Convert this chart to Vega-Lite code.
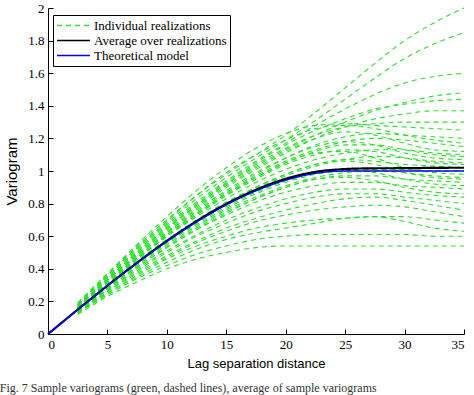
{
  "$schema": "https://vega.github.io/schema/vega-lite/v6.json",
  "autosize": {"type": "none"},
  "padding": {"left": 48, "top": 8, "right": 10, "bottom": 61},
  "width": 416,
  "height": 326,
  "background": "#ffffff",
  "title": {"text": "Fig. 7  Sample variograms (green, dashed lines), average of sample variograms", "orient": "bottom", "anchor": "start", "dx": -5, "offset": 13, "baseline": "top", "font": "Liberation Serif", "fontSize": 12, "fontWeight": "normal", "color": "#333333"},
  "config": {
    "view": {"stroke": null},
    "axis": {"grid": false, "domainColor": "#000000", "tickColor": "#000000", "tickSize": -5, "labelFont": "Liberation Serif", "labelFontSize": 13, "labelColor": "#000000", "titleFont": "Liberation Sans", "titleFontWeight": "normal", "titleColor": "#000000"},
    "legend": {"symbolStrokeWidth": 1.5}
  },
  "encoding": {
    "x": {"field": "h", "type": "quantitative", "scale": {"domain": [0, 35], "nice": false}, "axis": {"values": [0, 5, 10, 15, 20, 25, 30, 35], "title": "Lag separation distance", "titleFontSize": 13, "labelPadding": 9, "titlePadding": 6}},
    "y": {"field": "v", "type": "quantitative", "scale": {"domain": [0, 2], "nice": false}, "axis": {"values": [0, 0.2, 0.4, 0.6, 0.8, 1, 1.2, 1.4, 1.6, 1.8, 2], "format": "~g", "title": "Variogram", "titleFontSize": 15, "labelPadding": 9, "titlePadding": 8}}
  },
  "layer": [
    {
      "data": {"values": [
{"r":1,"h":2.5,"v":0.19},{"r":1,"h":5,"v":0.37},{"r":1,"h":7.5,"v":0.54},{"r":1,"h":10,"v":0.70},{"r":1,"h":12.5,"v":0.85},{"r":1,"h":15,"v":0.98},{"r":1,"h":17.5,"v":1.10},{"r":1,"h":20,"v":1.22},{"r":1,"h":22.5,"v":1.36},{"r":1,"h":25,"v":1.51},{"r":1,"h":27.5,"v":1.66},{"r":1,"h":30,"v":1.80},{"r":1,"h":32.5,"v":1.91},{"r":1,"h":35,"v":2.0},
{"r":2,"h":2.5,"v":0.18},{"r":2,"h":5,"v":0.36},{"r":2,"h":7.5,"v":0.53},{"r":2,"h":10,"v":0.68},{"r":2,"h":12.5,"v":0.83},{"r":2,"h":15,"v":0.96},{"r":2,"h":17.5,"v":1.08},{"r":2,"h":20,"v":1.19},{"r":2,"h":22.5,"v":1.31},{"r":2,"h":25,"v":1.44},{"r":2,"h":27.5,"v":1.57},{"r":2,"h":30,"v":1.69},{"r":2,"h":32.5,"v":1.78},{"r":2,"h":35,"v":1.85},
{"r":3,"h":2.5,"v":0.18},{"r":3,"h":5,"v":0.35},{"r":3,"h":7.5,"v":0.52},{"r":3,"h":10,"v":0.67},{"r":3,"h":12.5,"v":0.81},{"r":3,"h":15,"v":0.94},{"r":3,"h":17.5,"v":1.06},{"r":3,"h":20,"v":1.17},{"r":3,"h":22.5,"v":1.28},{"r":3,"h":25,"v":1.38},{"r":3,"h":27.5,"v":1.47},{"r":3,"h":30,"v":1.54},{"r":3,"h":32.5,"v":1.58},{"r":3,"h":35,"v":1.60},
{"r":4,"h":2.5,"v":0.17},{"r":4,"h":5,"v":0.34},{"r":4,"h":7.5,"v":0.50},{"r":4,"h":10,"v":0.65},{"r":4,"h":12.5,"v":0.79},{"r":4,"h":15,"v":0.92},{"r":4,"h":17.5,"v":1.03},{"r":4,"h":20,"v":1.13},{"r":4,"h":22.5,"v":1.22},{"r":4,"h":25,"v":1.30},{"r":4,"h":27.5,"v":1.37},{"r":4,"h":30,"v":1.42},{"r":4,"h":32.5,"v":1.46},{"r":4,"h":35,"v":1.48},
{"r":5,"h":2.5,"v":0.18},{"r":5,"h":5,"v":0.35},{"r":5,"h":7.5,"v":0.51},{"r":5,"h":10,"v":0.66},{"r":5,"h":12.5,"v":0.80},{"r":5,"h":15,"v":0.93},{"r":5,"h":17.5,"v":1.05},{"r":5,"h":20,"v":1.16},{"r":5,"h":22.5,"v":1.25},{"r":5,"h":25,"v":1.32},{"r":5,"h":27.5,"v":1.38},{"r":5,"h":30,"v":1.41},{"r":5,"h":32.5,"v":1.43},{"r":5,"h":35,"v":1.44},
{"r":6,"h":2.5,"v":0.17},{"r":6,"h":5,"v":0.33},{"r":6,"h":7.5,"v":0.49},{"r":6,"h":10,"v":0.63},{"r":6,"h":12.5,"v":0.77},{"r":6,"h":15,"v":0.90},{"r":6,"h":17.5,"v":1.01},{"r":6,"h":20,"v":1.11},{"r":6,"h":22.5,"v":1.20},{"r":6,"h":25,"v":1.27},{"r":6,"h":27.5,"v":1.32},{"r":6,"h":30,"v":1.35},{"r":6,"h":32.5,"v":1.37},{"r":6,"h":35,"v":1.37},
{"r":7,"h":2.5,"v":0.17},{"r":7,"h":5,"v":0.34},{"r":7,"h":7.5,"v":0.50},{"r":7,"h":10,"v":0.65},{"r":7,"h":12.5,"v":0.79},{"r":7,"h":15,"v":0.92},{"r":7,"h":17.5,"v":1.04},{"r":7,"h":20,"v":1.14},{"r":7,"h":22.5,"v":1.22},{"r":7,"h":25,"v":1.27},{"r":7,"h":27.5,"v":1.29},{"r":7,"h":30,"v":1.30},{"r":7,"h":32.5,"v":1.30},{"r":7,"h":35,"v":1.30},
{"r":8,"h":2.5,"v":0.19},{"r":8,"h":5,"v":0.37},{"r":8,"h":7.5,"v":0.55},{"r":8,"h":10,"v":0.72},{"r":8,"h":12.5,"v":0.88},{"r":8,"h":15,"v":1.02},{"r":8,"h":17.5,"v":1.14},{"r":8,"h":20,"v":1.23},{"r":8,"h":22.5,"v":1.28},{"r":8,"h":25,"v":1.29},{"r":8,"h":27.5,"v":1.28},{"r":8,"h":30,"v":1.27},{"r":8,"h":32.5,"v":1.26},{"r":8,"h":35,"v":1.25},
{"r":9,"h":2.5,"v":0.17},{"r":9,"h":5,"v":0.33},{"r":9,"h":7.5,"v":0.48},{"r":9,"h":10,"v":0.62},{"r":9,"h":12.5,"v":0.75},{"r":9,"h":15,"v":0.87},{"r":9,"h":17.5,"v":0.98},{"r":9,"h":20,"v":1.08},{"r":9,"h":22.5,"v":1.16},{"r":9,"h":25,"v":1.21},{"r":9,"h":27.5,"v":1.23},{"r":9,"h":30,"v":1.22},{"r":9,"h":32.5,"v":1.21},{"r":9,"h":35,"v":1.20},
{"r":10,"h":2.5,"v":0.18},{"r":10,"h":5,"v":0.36},{"r":10,"h":7.5,"v":0.53},{"r":10,"h":10,"v":0.69},{"r":10,"h":12.5,"v":0.85},{"r":10,"h":15,"v":0.99},{"r":10,"h":17.5,"v":1.10},{"r":10,"h":20,"v":1.19},{"r":10,"h":22.5,"v":1.26},{"r":10,"h":25,"v":1.28},{"r":10,"h":27.5,"v":1.26},{"r":10,"h":30,"v":1.22},{"r":10,"h":32.5,"v":1.19},{"r":10,"h":35,"v":1.17},
{"r":11,"h":2.5,"v":0.16},{"r":11,"h":5,"v":0.32},{"r":11,"h":7.5,"v":0.47},{"r":11,"h":10,"v":0.61},{"r":11,"h":12.5,"v":0.74},{"r":11,"h":15,"v":0.86},{"r":11,"h":17.5,"v":0.97},{"r":11,"h":20,"v":1.06},{"r":11,"h":22.5,"v":1.13},{"r":11,"h":25,"v":1.18},{"r":11,"h":27.5,"v":1.20},{"r":11,"h":30,"v":1.19},{"r":11,"h":32.5,"v":1.17},{"r":11,"h":35,"v":1.15},
{"r":12,"h":2.5,"v":0.17},{"r":12,"h":5,"v":0.33},{"r":12,"h":7.5,"v":0.49},{"r":12,"h":10,"v":0.64},{"r":12,"h":12.5,"v":0.78},{"r":12,"h":15,"v":0.91},{"r":12,"h":17.5,"v":1.02},{"r":12,"h":20,"v":1.12},{"r":12,"h":22.5,"v":1.20},{"r":12,"h":25,"v":1.24},{"r":12,"h":27.5,"v":1.22},{"r":12,"h":30,"v":1.17},{"r":12,"h":32.5,"v":1.13},{"r":12,"h":35,"v":1.12},
{"r":13,"h":2.5,"v":0.16},{"r":13,"h":5,"v":0.31},{"r":13,"h":7.5,"v":0.46},{"r":13,"h":10,"v":0.60},{"r":13,"h":12.5,"v":0.72},{"r":13,"h":15,"v":0.83},{"r":13,"h":17.5,"v":0.93},{"r":13,"h":20,"v":1.01},{"r":13,"h":22.5,"v":1.07},{"r":13,"h":25,"v":1.11},{"r":13,"h":27.5,"v":1.13},{"r":13,"h":30,"v":1.13},{"r":13,"h":32.5,"v":1.11},{"r":13,"h":35,"v":1.10},
{"r":14,"h":2.5,"v":0.16},{"r":14,"h":5,"v":0.32},{"r":14,"h":7.5,"v":0.47},{"r":14,"h":10,"v":0.61},{"r":14,"h":12.5,"v":0.74},{"r":14,"h":15,"v":0.86},{"r":14,"h":17.5,"v":0.96},{"r":14,"h":20,"v":1.05},{"r":14,"h":22.5,"v":1.12},{"r":14,"h":25,"v":1.16},{"r":14,"h":27.5,"v":1.16},{"r":14,"h":30,"v":1.13},{"r":14,"h":32.5,"v":1.10},{"r":14,"h":35,"v":1.09},
{"r":15,"h":2.5,"v":0.17},{"r":15,"h":5,"v":0.33},{"r":15,"h":7.5,"v":0.48},{"r":15,"h":10,"v":0.62},{"r":15,"h":12.5,"v":0.76},{"r":15,"h":15,"v":0.88},{"r":15,"h":17.5,"v":0.99},{"r":15,"h":20,"v":1.08},{"r":15,"h":22.5,"v":1.15},{"r":15,"h":25,"v":1.18},{"r":15,"h":27.5,"v":1.16},{"r":15,"h":30,"v":1.11},{"r":15,"h":32.5,"v":1.08},{"r":15,"h":35,"v":1.07},
{"r":16,"h":2.5,"v":0.15},{"r":16,"h":5,"v":0.30},{"r":16,"h":7.5,"v":0.44},{"r":16,"h":10,"v":0.57},{"r":16,"h":12.5,"v":0.69},{"r":16,"h":15,"v":0.80},{"r":16,"h":17.5,"v":0.89},{"r":16,"h":20,"v":0.97},{"r":16,"h":22.5,"v":1.03},{"r":16,"h":25,"v":1.07},{"r":16,"h":27.5,"v":1.09},{"r":16,"h":30,"v":1.08},{"r":16,"h":32.5,"v":1.06},{"r":16,"h":35,"v":1.05},
{"r":17,"h":2.5,"v":0.16},{"r":17,"h":5,"v":0.31},{"r":17,"h":7.5,"v":0.46},{"r":17,"h":10,"v":0.60},{"r":17,"h":12.5,"v":0.73},{"r":17,"h":15,"v":0.85},{"r":17,"h":17.5,"v":0.95},{"r":17,"h":20,"v":1.04},{"r":17,"h":22.5,"v":1.10},{"r":17,"h":25,"v":1.13},{"r":17,"h":27.5,"v":1.12},{"r":17,"h":30,"v":1.08},{"r":17,"h":32.5,"v":1.05},{"r":17,"h":35,"v":1.04},
{"r":18,"h":2.5,"v":0.15},{"r":18,"h":5,"v":0.30},{"r":18,"h":7.5,"v":0.45},{"r":18,"h":10,"v":0.58},{"r":18,"h":12.5,"v":0.70},{"r":18,"h":15,"v":0.81},{"r":18,"h":17.5,"v":0.90},{"r":18,"h":20,"v":0.98},{"r":18,"h":22.5,"v":1.04},{"r":18,"h":25,"v":1.07},{"r":18,"h":27.5,"v":1.06},{"r":18,"h":30,"v":1.04},{"r":18,"h":32.5,"v":1.03},{"r":18,"h":35,"v":1.02},
{"r":19,"h":2.5,"v":0.15},{"r":19,"h":5,"v":0.29},{"r":19,"h":7.5,"v":0.43},{"r":19,"h":10,"v":0.56},{"r":19,"h":12.5,"v":0.67},{"r":19,"h":15,"v":0.77},{"r":19,"h":17.5,"v":0.86},{"r":19,"h":20,"v":0.93},{"r":19,"h":22.5,"v":0.98},{"r":19,"h":25,"v":1.00},{"r":19,"h":27.5,"v":1.01},{"r":19,"h":30,"v":1.01},{"r":19,"h":32.5,"v":1.00},{"r":19,"h":35,"v":1.00},
{"r":20,"h":2.5,"v":0.16},{"r":20,"h":5,"v":0.31},{"r":20,"h":7.5,"v":0.46},{"r":20,"h":10,"v":0.60},{"r":20,"h":12.5,"v":0.73},{"r":20,"h":15,"v":0.85},{"r":20,"h":17.5,"v":0.96},{"r":20,"h":20,"v":1.05},{"r":20,"h":22.5,"v":1.11},{"r":20,"h":25,"v":1.12},{"r":20,"h":27.5,"v":1.08},{"r":20,"h":30,"v":1.02},{"r":20,"h":32.5,"v":0.99},{"r":20,"h":35,"v":0.98},
{"r":21,"h":2.5,"v":0.15},{"r":21,"h":5,"v":0.29},{"r":21,"h":7.5,"v":0.43},{"r":21,"h":10,"v":0.55},{"r":21,"h":12.5,"v":0.66},{"r":21,"h":15,"v":0.76},{"r":21,"h":17.5,"v":0.84},{"r":21,"h":20,"v":0.91},{"r":21,"h":22.5,"v":0.96},{"r":21,"h":25,"v":0.99},{"r":21,"h":27.5,"v":1.00},{"r":21,"h":30,"v":0.99},{"r":21,"h":32.5,"v":0.97},{"r":21,"h":35,"v":0.96},
{"r":22,"h":2.5,"v":0.15},{"r":22,"h":5,"v":0.30},{"r":22,"h":7.5,"v":0.44},{"r":22,"h":10,"v":0.57},{"r":22,"h":12.5,"v":0.69},{"r":22,"h":15,"v":0.80},{"r":22,"h":17.5,"v":0.90},{"r":22,"h":20,"v":0.98},{"r":22,"h":22.5,"v":1.04},{"r":22,"h":25,"v":1.06},{"r":22,"h":27.5,"v":1.04},{"r":22,"h":30,"v":0.99},{"r":22,"h":32.5,"v":0.96},{"r":22,"h":35,"v":0.95},
{"r":23,"h":2.5,"v":0.14},{"r":23,"h":5,"v":0.28},{"r":23,"h":7.5,"v":0.42},{"r":23,"h":10,"v":0.54},{"r":23,"h":12.5,"v":0.65},{"r":23,"h":15,"v":0.75},{"r":23,"h":17.5,"v":0.83},{"r":23,"h":20,"v":0.90},{"r":23,"h":22.5,"v":0.95},{"r":23,"h":25,"v":0.97},{"r":23,"h":27.5,"v":0.97},{"r":23,"h":30,"v":0.95},{"r":23,"h":32.5,"v":0.94},{"r":23,"h":35,"v":0.93},
{"r":24,"h":2.5,"v":0.15},{"r":24,"h":5,"v":0.29},{"r":24,"h":7.5,"v":0.43},{"r":24,"h":10,"v":0.56},{"r":24,"h":12.5,"v":0.68},{"r":24,"h":15,"v":0.78},{"r":24,"h":17.5,"v":0.87},{"r":24,"h":20,"v":0.94},{"r":24,"h":22.5,"v":0.99},{"r":24,"h":25,"v":1.01},{"r":24,"h":27.5,"v":0.99},{"r":24,"h":30,"v":0.95},{"r":24,"h":32.5,"v":0.92},{"r":24,"h":35,"v":0.91},
{"r":25,"h":2.5,"v":0.14},{"r":25,"h":5,"v":0.28},{"r":25,"h":7.5,"v":0.41},{"r":25,"h":10,"v":0.53},{"r":25,"h":12.5,"v":0.64},{"r":25,"h":15,"v":0.73},{"r":25,"h":17.5,"v":0.81},{"r":25,"h":20,"v":0.87},{"r":25,"h":22.5,"v":0.91},{"r":25,"h":25,"v":0.93},{"r":25,"h":27.5,"v":0.93},{"r":25,"h":30,"v":0.91},{"r":25,"h":32.5,"v":0.90},{"r":25,"h":35,"v":0.89},
{"r":26,"h":2.5,"v":0.14},{"r":26,"h":5,"v":0.28},{"r":26,"h":7.5,"v":0.41},{"r":26,"h":10,"v":0.53},{"r":26,"h":12.5,"v":0.64},{"r":26,"h":15,"v":0.74},{"r":26,"h":17.5,"v":0.83},{"r":26,"h":20,"v":0.90},{"r":26,"h":22.5,"v":0.95},{"r":26,"h":25,"v":0.96},{"r":26,"h":27.5,"v":0.94},{"r":26,"h":30,"v":0.90},{"r":26,"h":32.5,"v":0.87},{"r":26,"h":35,"v":0.86},
{"r":27,"h":2.5,"v":0.14},{"r":27,"h":5,"v":0.27},{"r":27,"h":7.5,"v":0.40},{"r":27,"h":10,"v":0.51},{"r":27,"h":12.5,"v":0.61},{"r":27,"h":15,"v":0.70},{"r":27,"h":17.5,"v":0.77},{"r":27,"h":20,"v":0.83},{"r":27,"h":22.5,"v":0.87},{"r":27,"h":25,"v":0.89},{"r":27,"h":27.5,"v":0.89},{"r":27,"h":30,"v":0.87},{"r":27,"h":32.5,"v":0.85},{"r":27,"h":35,"v":0.84},
{"r":28,"h":2.5,"v":0.14},{"r":28,"h":5,"v":0.27},{"r":28,"h":7.5,"v":0.39},{"r":28,"h":10,"v":0.50},{"r":28,"h":12.5,"v":0.60},{"r":28,"h":15,"v":0.68},{"r":28,"h":17.5,"v":0.75},{"r":28,"h":20,"v":0.80},{"r":28,"h":22.5,"v":0.84},{"r":28,"h":25,"v":0.86},{"r":28,"h":27.5,"v":0.86},{"r":28,"h":30,"v":0.84},{"r":28,"h":32.5,"v":0.82},{"r":28,"h":35,"v":0.80},
{"r":29,"h":2.5,"v":0.13},{"r":29,"h":5,"v":0.26},{"r":29,"h":7.5,"v":0.38},{"r":29,"h":10,"v":0.48},{"r":29,"h":12.5,"v":0.57},{"r":29,"h":15,"v":0.65},{"r":29,"h":17.5,"v":0.71},{"r":29,"h":20,"v":0.76},{"r":29,"h":22.5,"v":0.80},{"r":29,"h":25,"v":0.83},{"r":29,"h":27.5,"v":0.84},{"r":29,"h":30,"v":0.82},{"r":29,"h":32.5,"v":0.79},{"r":29,"h":35,"v":0.76},
{"r":30,"h":2.5,"v":0.13},{"r":30,"h":5,"v":0.26},{"r":30,"h":7.5,"v":0.37},{"r":30,"h":10,"v":0.47},{"r":30,"h":12.5,"v":0.56},{"r":30,"h":15,"v":0.63},{"r":30,"h":17.5,"v":0.69},{"r":30,"h":20,"v":0.73},{"r":30,"h":22.5,"v":0.76},{"r":30,"h":25,"v":0.78},{"r":30,"h":27.5,"v":0.79},{"r":30,"h":30,"v":0.78},{"r":30,"h":32.5,"v":0.75},{"r":30,"h":35,"v":0.72},
{"r":31,"h":2.5,"v":0.13},{"r":31,"h":5,"v":0.25},{"r":31,"h":7.5,"v":0.36},{"r":31,"h":10,"v":0.46},{"r":31,"h":12.5,"v":0.54},{"r":31,"h":15,"v":0.60},{"r":31,"h":17.5,"v":0.65},{"r":31,"h":20,"v":0.68},{"r":31,"h":22.5,"v":0.70},{"r":31,"h":25,"v":0.71},{"r":31,"h":27.5,"v":0.72},{"r":31,"h":30,"v":0.72},{"r":31,"h":32.5,"v":0.70},{"r":31,"h":35,"v":0.68},
{"r":32,"h":2.5,"v":0.13},{"r":32,"h":5,"v":0.25},{"r":32,"h":7.5,"v":0.35},{"r":32,"h":10,"v":0.44},{"r":32,"h":12.5,"v":0.52},{"r":32,"h":15,"v":0.58},{"r":32,"h":17.5,"v":0.62},{"r":32,"h":20,"v":0.65},{"r":32,"h":22.5,"v":0.68},{"r":32,"h":25,"v":0.71},{"r":32,"h":27.5,"v":0.72},{"r":32,"h":30,"v":0.69},{"r":32,"h":32.5,"v":0.65},{"r":32,"h":35,"v":0.63},
{"r":33,"h":2.5,"v":0.13},{"r":33,"h":5,"v":0.24},{"r":33,"h":7.5,"v":0.34},{"r":33,"h":10,"v":0.42},{"r":33,"h":12.5,"v":0.49},{"r":33,"h":15,"v":0.54},{"r":33,"h":17.5,"v":0.58},{"r":33,"h":20,"v":0.60},{"r":33,"h":22.5,"v":0.61},{"r":33,"h":25,"v":0.61},{"r":33,"h":27.5,"v":0.61},{"r":33,"h":30,"v":0.61},{"r":33,"h":32.5,"v":0.60},{"r":33,"h":35,"v":0.60},
{"r":34,"h":2.5,"v":0.12},{"r":34,"h":5,"v":0.23},{"r":34,"h":7.5,"v":0.32},{"r":34,"h":10,"v":0.40},{"r":34,"h":12.5,"v":0.46},{"r":34,"h":15,"v":0.50},{"r":34,"h":17.5,"v":0.53},{"r":34,"h":20,"v":0.54},{"r":34,"h":22.5,"v":0.54},{"r":34,"h":25,"v":0.54},{"r":34,"h":27.5,"v":0.54},{"r":34,"h":30,"v":0.54},{"r":34,"h":32.5,"v":0.54},{"r":34,"h":35,"v":0.54}
      ]},
      "mark": {"type": "line", "strokeWidth": 1.1, "interpolate": "monotone"},
      "encoding": {
        "detail": {"field": "r", "type": "nominal"},
        "color": {"datum": "Individual realizations", "type": "nominal", "scale": {"domain": ["Individual realizations", "Average over realizations", "Theoretical model"], "range": ["#2ee02e", "#000000", "#0000ff"]}, "legend": {"title": null, "orient": "none", "legendX": 5, "legendY": 7, "strokeColor": "#000000", "fillColor": "#ffffff", "padding": 3, "symbolType": "stroke", "symbolSize": 1089, "clipHeight": 15, "rowPadding": 0, "labelFont": "Liberation Serif", "labelFontSize": 13, "labelColor": "#000000", "labelOffset": 3}},
        "strokeDash": {"datum": "Individual realizations", "type": "nominal", "scale": {"domain": ["Individual realizations", "Average over realizations", "Theoretical model"], "range": [[5, 4], [1, 0], [1, 0]]}, "legend": {"title": null, "orient": "none", "legendX": 5, "legendY": 7}}
      }
    },
    {
      "data": {"values": [
{"h":0,"v":0},{"h":1,"v":0.06},{"h":2,"v":0.12},{"h":3,"v":0.18},{"h":4,"v":0.238},{"h":5,"v":0.297},{"h":6,"v":0.354},{"h":7,"v":0.41},{"h":8,"v":0.465},{"h":9,"v":0.519},{"h":10,"v":0.571},{"h":11,"v":0.621},{"h":12,"v":0.669},{"h":13,"v":0.715},{"h":14,"v":0.758},{"h":15,"v":0.798},{"h":16,"v":0.835},{"h":17,"v":0.869},{"h":18,"v":0.9},{"h":19,"v":0.928},{"h":20,"v":0.952},{"h":21,"v":0.972},{"h":22,"v":0.988},{"h":23,"v":1.0},{"h":24,"v":1.007},{"h":25,"v":1.012},{"h":26,"v":1.015},{"h":27,"v":1.016},{"h":28,"v":1.017},{"h":29,"v":1.017},{"h":30,"v":1.018},{"h":31,"v":1.018},{"h":32,"v":1.019},{"h":33,"v":1.019},{"h":34,"v":1.02},{"h":35,"v":1.02}
      ]},
      "mark": {"type": "line", "strokeWidth": 2.2, "interpolate": "monotone"},
      "encoding": {
        "color": {"datum": "Average over realizations", "type": "nominal"},
        "strokeDash": {"datum": "Average over realizations", "type": "nominal"}
      }
    },
    {
      "data": {"values": [
{"h":0,"v":0},{"h":1,"v":0.06},{"h":2,"v":0.1197},{"h":3,"v":0.1791},{"h":4,"v":0.238},{"h":5,"v":0.296},{"h":6,"v":0.3531},{"h":7,"v":0.409},{"h":8,"v":0.4636},{"h":9,"v":0.5167},{"h":10,"v":0.568},{"h":11,"v":0.6174},{"h":12,"v":0.6647},{"h":13,"v":0.7097},{"h":14,"v":0.7522},{"h":15,"v":0.792},{"h":16,"v":0.8289},{"h":17,"v":0.8628},{"h":18,"v":0.8934},{"h":19,"v":0.9205},{"h":20,"v":0.944},{"h":21,"v":0.9636},{"h":22,"v":0.9793},{"h":23,"v":0.9907},{"h":24,"v":0.9976},{"h":25,"v":1.0},{"h":30,"v":1.0},{"h":35,"v":1.0}
      ]},
      "mark": {"type": "line", "strokeWidth": 1.4, "interpolate": "monotone"},
      "encoding": {
        "color": {"datum": "Theoretical model", "type": "nominal"},
        "strokeDash": {"datum": "Theoretical model", "type": "nominal"}
      }
    }
  ]
}
